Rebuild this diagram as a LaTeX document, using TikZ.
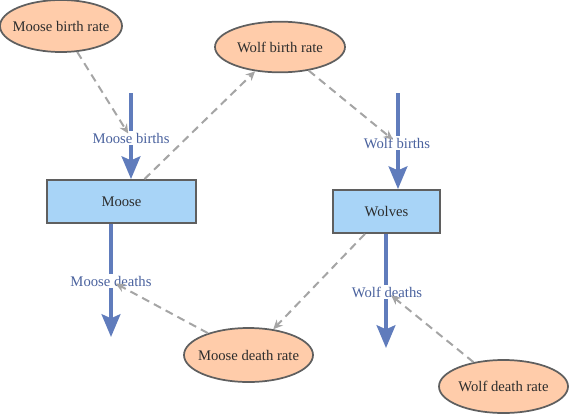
\documentclass[tikz,border=0pt]{standalone}
\usepackage{fontspec}
\setmainfont{Liberation Serif}
\usepackage{xcolor}
\usepackage{tikz}
\usetikzlibrary{arrows.meta,shapes.geometric,positioning,calc}
\definecolor{ratefill}{RGB}{255,204,170}
\definecolor{stockfill}{RGB}{168,212,247}
\definecolor{flowblue}{RGB}{96,124,188}
\definecolor{flowtext}{RGB}{74,98,158}
\definecolor{linkgray}{RGB}{165,165,165}
\definecolor{edgegray}{RGB}{95,95,95}
\definecolor{textdark}{RGB}{45,45,45}

\begin{document}
\begin{tikzpicture}[
    x=0.75pt, y=-0.75pt,
    rate/.style={ellipse, draw=edgegray, fill=ratefill, line width=1.3pt, inner xsep=-4pt, inner ysep=0pt, text=textdark, font=\rmfamily\fontsize{11}{13}\selectfont},
    stock/.style={rectangle, draw=edgegray, fill=stockfill, line width=1.4pt, inner sep=0pt, minimum height=32.25pt, text=textdark, font=\rmfamily\fontsize{11}{13}\selectfont},
    flowlabel/.style={fill=white, text=flowtext, inner sep=1.5pt, font=\rmfamily\fontsize{11}{13}\selectfont},
    flow/.style={draw=flowblue, line width=3pt, -{Stealth[length=17pt,width=14pt,inset=3pt]}},
    link/.style={draw=linkgray, line width=1.5pt, dash pattern=on 6pt off 4pt, -{Stealth[length=7pt,width=6.5pt]}, shorten >=4pt}
]
    \useasboundingbox (0,0) rectangle (578,418);

    % Stocks
    \node[stock, minimum width=111.75pt] (moose) at (121.5,201.5) {Moose};
    \node[stock, minimum width=80pt] (wolves) at (386.5,211.5) {Wolves};

    % Rates
    \node[rate, minimum width=91.5pt, minimum height=39pt] (moosebr) at (61,26) {Moose birth rate};
    \node[rate, minimum width=97.5pt, minimum height=38pt] (wolfbr) at (280,47) {Wolf birth rate};
    \node[rate, minimum width=96.75pt, minimum height=40.5pt] (moosedr) at (248.5,355) {Moose death rate};
    \node[rate, minimum width=96.75pt, minimum height=39.75pt] (wolfdr) at (503.5,386.5) {Wolf death rate};

    % Flow ends
    \coordinate (mbsrc) at (131,93);
    \coordinate (mdsink) at (111,337);
    \coordinate (wbsrc) at (398,93);
    \coordinate (wdsink) at (386,348);

    % Flows
    \draw[flow] (mbsrc) -- (mbsrc |- moose.north);
    \draw[flow] (mdsink |- moose.south) -- (mdsink);
    \draw[flow] (wbsrc) -- (wbsrc |- wolves.north);
    \draw[flow] (wdsink |- wolves.south) -- (wdsink);

    % Flow labels
    \node[flowlabel] (mb) at (131,138) {Moose births};
    \node[flowlabel] (md) at (111,281) {Moose deaths};
    \node[flowlabel] (wb) at (397,143) {Wolf births};
    \node[flowlabel] (wd) at (387,292) {Wolf deaths};

    % Information links
    \draw[link] (moosebr) -- (mb.center);
    \draw[link, shorten >=0pt] (moose) -- (wolfbr);
    \draw[link] (wolfbr) -- (wb.center);
    \draw[link, shorten >=0pt] (wolves) -- (moosedr);
    \draw[link] (moosedr) -- (md.center);
    \draw[link] (wolfdr) -- (wd.center);
\end{tikzpicture}
\end{document}
